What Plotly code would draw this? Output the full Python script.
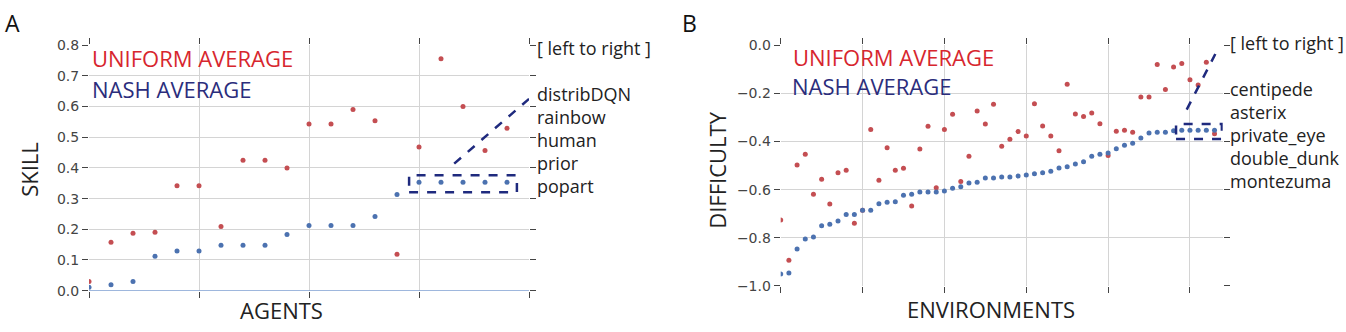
import plotly.graph_objects as go

# ---------------- data ----------------
agent_uniform = [0.030, 0.158, 0.187, 0.190, 0.342, 0.342, 0.209, 0.425, 0.425, 0.400,
                 0.543, 0.543, 0.590, 0.554, 0.119, 0.468, 0.756, 0.600, 0.457, 0.529]
agent_nash = [0.011, 0.019, 0.030, 0.112, 0.129, 0.129, 0.148, 0.148, 0.148, 0.183,
              0.212, 0.212, 0.212, 0.242, 0.313, 0.353, 0.353, 0.353, 0.353, 0.353]

env_uniform = [-0.726, -0.893, -0.498, -0.453, -0.619, -0.557, -0.660, -0.530, -0.520, -0.740,
               -0.686, -0.350, -0.561, -0.426, -0.520, -0.511, -0.668, -0.431, -0.337, -0.592,
               -0.350, -0.287, -0.566, -0.462, -0.274, -0.328, -0.246, -0.420, -0.391, -0.359,
               -0.377, -0.243, -0.336, -0.377, -0.439, -0.162, -0.286, -0.296, -0.282, -0.327,
               -0.458, -0.358, -0.354, -0.362, -0.215, -0.215, -0.080, -0.184, -0.091, -0.076,
               -0.144, -0.166, -0.071, -0.368]
env_nash = [-0.950, -0.946, -0.847, -0.805, -0.797, -0.750, -0.744, -0.730, -0.703, -0.703,
            -0.686, -0.686, -0.659, -0.653, -0.650, -0.623, -0.619, -0.610, -0.610, -0.610,
            -0.606, -0.594, -0.588, -0.573, -0.569, -0.552, -0.552, -0.548, -0.548, -0.544,
            -0.539, -0.534, -0.530, -0.524, -0.510, -0.505, -0.494, -0.484, -0.462, -0.453,
            -0.448, -0.430, -0.416, -0.407, -0.386, -0.365, -0.362, -0.362, -0.356, -0.354,
            -0.354, -0.354, -0.354, -0.354]

agent_labels = ["[ left to right ]", "distribDQN", "rainbow", "human", "prior", "popart"]
env_labels = ["[ left to right ]", "centipede", "asterix", "private_eye", "double_dunk", "montezuma"]

skill_ticks = [0.0, 0.1, 0.2, 0.3, 0.4, 0.5, 0.6, 0.7, 0.8]
diff_ticks = [-1.0, -0.8, -0.6, -0.4, -0.2, 0.0]

# ---------------- style ----------------
W, H = 1346, 332
RED_PT = "#c44e52"
BLUE_PT = "#4c72b0"
RED_TXT = "#d7262e"
NAVY = "#2b2d7c"
BOX = "#1f2a7e"
GRID = "#d4d4d4"
TXT = "Open Sans"


def fx(p):
    return p / W


def fy(p):
    return 1 - p / H


fig = go.Figure()

xa = list(range(len(agent_uniform)))
xe = list(range(len(env_uniform)))

fig.add_trace(go.Scatter(x=xa, y=agent_uniform, mode="markers", xaxis="x", yaxis="y",
                         marker=dict(color=RED_PT, size=5), showlegend=False))
fig.add_trace(go.Scatter(x=xa, y=agent_nash, mode="markers", xaxis="x", yaxis="y",
                         marker=dict(color=BLUE_PT, size=5), showlegend=False))
fig.add_trace(go.Scatter(x=xe, y=env_uniform, mode="markers", xaxis="x2", yaxis="y2",
                         marker=dict(color=RED_PT, size=5), showlegend=False))
fig.add_trace(go.Scatter(x=xe, y=env_nash, mode="markers", xaxis="x2", yaxis="y2",
                         marker=dict(color=BLUE_PT, size=5), showlegend=False))

common_x = dict(showticklabels=False, ticks="outside", ticklen=6, tickwidth=1, tickcolor="#444",
                mirror="ticks", showline=False, showgrid=True, gridcolor=GRID, gridwidth=1,
                zeroline=False)
common_y = dict(ticks="outside", ticklen=6, tickwidth=1, tickcolor="#444", mirror="ticks",
                showline=False, showgrid=True, gridcolor=GRID, gridwidth=1, zeroline=False,
                tickfont=dict(family="DejaVu Sans", size=14, color="#444"), tickformat=".1f")

fig.update_layout(
    width=W, height=H, margin=dict(l=0, r=0, t=0, b=0),
    paper_bgcolor="white", plot_bgcolor="white", hovermode=False,
    xaxis=dict(domain=[fx(89), fx(529)], range=[0, 20], tickvals=[0, 5, 10, 15, 20],
               anchor="y", **common_x),
    yaxis=dict(domain=[fy(297), fy(39)], range=[0, 0.8], tickvals=skill_ticks,
               anchor="x", **common_y),
    xaxis2=dict(domain=[fx(780.7), fx(1222.7)], range=[0, 54], tickvals=[0, 10, 20, 30, 40, 50],
                anchor="y2", **common_x),
    yaxis2=dict(domain=[fy(292), fy(39)], range=[-1.0, 0.0], tickvals=diff_ticks,
                anchor="x2", **common_y),
)

shapes = [
    # blue baseline in panel A
    dict(type="line", xref="x", yref="y", x0=0, x1=20, y0=0.0, y1=0.0,
         line=dict(color="#7e9fd2", width=1.5)),
    dict(type="rect", xref="x", yref="y", x0=14.55, x1=19.45, y0=0.321, y1=0.376,
         line=dict(color=BOX, width=2.5, dash="dash")),
    dict(type="line", xref="x", yref="y", x0=16.6, x1=20.05, y0=0.414, y1=0.628,
         line=dict(color=BOX, width=2.5, dash="dash")),
    dict(type="rect", xref="x2", yref="y2", x0=48.3, x1=53.9, y0=-0.390, y1=-0.328,
         line=dict(color=BOX, width=2.5, dash="dash")),
    dict(type="line", xref="x2", yref="y2", x0=49.6, x1=53.1, y0=-0.268, y1=-0.037,
         line=dict(color=BOX, width=2.5, dash="dash")),
]
fig.update_layout(shapes=shapes)

ann = []


def text(s, x, y, size, color="#222", xanchor="left", angle=0):
    ann.append(dict(text=s, x=fx(x), y=fy(y), xref="paper", yref="paper", showarrow=False,
                    xanchor=xanchor, yanchor="middle", textangle=angle,
                    font=dict(family=TXT, size=size, color=color)))


# panel letters
text("A", 12, 16, 23, "#111", "center")
text("B", 689, 16, 23, "#111", "center")
# legends-in-plot
text("UNIFORM AVERAGE", 90, 53, 22, RED_TXT)
text("NASH AVERAGE", 90, 85, 22, NAVY)
text("UNIFORM AVERAGE", 791, 51, 22, RED_TXT)
text("NASH AVERAGE", 790, 82, 22, NAVY)
# axis titles
text("SKILL", 29, 170, 22, "#222", "center", -90)
text("AGENTS", 281, 317, 22, "#222", "center")
text("DIFFICULTY", 717, 171, 22, "#222", "center", -90)
text("ENVIRONMENTS", 991, 316, 22, "#222", "center")
# right-hand labels
for i, s in enumerate(agent_labels):
    ypos = 41.7 if i == 0 else 90 + (i - 1) * 24.2
    text(s, 535, ypos, 18, "#222")
for i, s in enumerate(env_labels):
    ypos = 36.7 if i == 0 else 85 + (i - 1) * 24.2
    text(s, 1228, ypos, 18, "#222")

fig.update_layout(annotations=ann)

fig.write_html("out.html", config={"displayModeBar": False},
               post_script="document.body.style.margin='0px';")
